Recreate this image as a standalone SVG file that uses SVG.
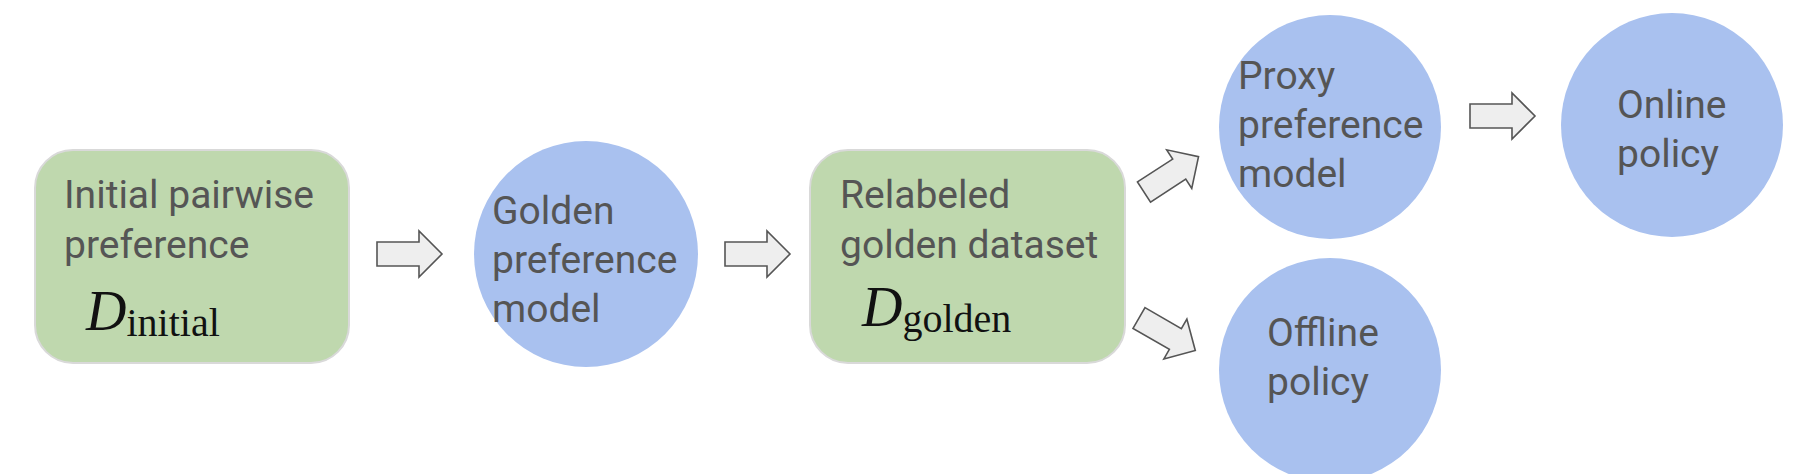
<svg xmlns="http://www.w3.org/2000/svg" width="1802" height="474" viewBox="0 0 1802 474">
<style>
.box{fill:#bfd8ae;stroke:#d9d9d9;stroke-width:2}
.oval{fill:#a9c1ef}
.t{font-family:Roboto,"Liberation Sans",sans-serif;font-size:39px;fill:#555}
.m{font-family:"Liberation Serif",serif;fill:#111}
.arr{fill:#eeeeee;stroke:#555;stroke-width:1.6;stroke-linejoin:miter}
</style>
<defs>
<path id="ba" class="arr" d="M0,-12 L42,-12 L42,-23 L65,0 L42,23 L42,12 L0,12 Z"/>
</defs>
<rect width="1802" height="474" fill="#fff"/>
<g id="initial">
<rect class="box" x="35" y="150" width="314" height="213" rx="38"/>
<text class="t" x="64" y="208">Initial pairwise</text>
<text class="t" x="64" y="258">preference</text>
<text class="m" x="86" y="330"><tspan font-size="56" font-style="italic">D</tspan><tspan font-size="40" dy="6">initial</tspan></text>
</g>
<g id="golden">
<ellipse class="oval" cx="586" cy="254" rx="112" ry="113"/>
<text class="t" x="492" y="224">Golden</text>
<text class="t" x="492" y="273">preference</text>
<text class="t" x="492" y="322">model</text>
</g>
<g id="relabeled">
<rect class="box" x="810" y="150" width="315" height="213" rx="38"/>
<text class="t" x="840" y="208">Relabeled</text>
<text class="t" x="840" y="258">golden dataset</text>
<text class="m" x="862" y="326"><tspan font-size="56" font-style="italic">D</tspan><tspan font-size="40" dy="6">golden</tspan></text>
</g>
<g id="proxy">
<ellipse class="oval" cx="1330" cy="127" rx="111" ry="112"/>
<text class="t" x="1238" y="89">Proxy</text>
<text class="t" x="1238" y="138">preference</text>
<text class="t" x="1238" y="187">model</text>
</g>
<g id="online">
<ellipse class="oval" cx="1672" cy="125" rx="111" ry="112"/>
<text class="t" x="1617" y="118">Online</text>
<text class="t" x="1617" y="167">policy</text>
</g>
<g id="offline">
<ellipse class="oval" cx="1330" cy="370" rx="111" ry="112"/>
<text class="t" x="1267" y="346">Offline</text>
<text class="t" x="1267" y="395">policy</text>
</g>
<g id="connectors">
<use href="#ba" transform="translate(377,254)"/>
<use href="#ba" transform="translate(725,254)"/>
<use href="#ba" transform="translate(1470,116)"/>
<use href="#ba" transform="translate(1144,192) rotate(-33)"/>
<use href="#ba" transform="translate(1139,318) rotate(30)"/>
</g>
</svg>
